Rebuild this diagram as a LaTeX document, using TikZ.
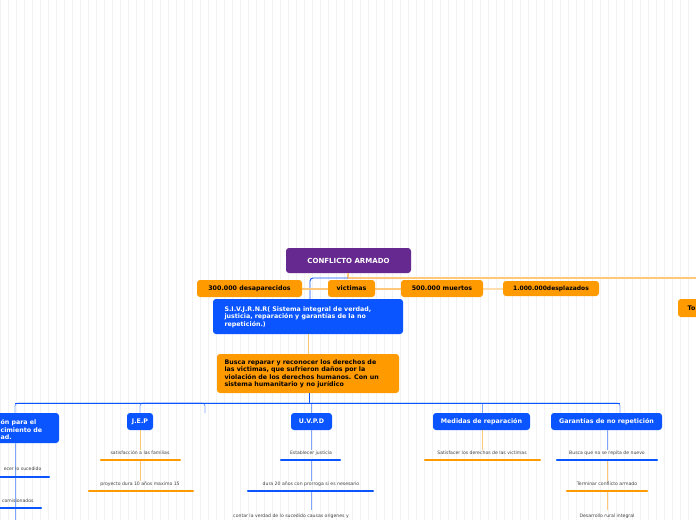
\documentclass[tikz,border=0pt]{standalone}
\usepackage{fontspec}
\setmainfont{DejaVu Sans}
\definecolor{purp}{HTML}{66298F}
\definecolor{blu}{HTML}{0A55FF}
\definecolor{org}{HTML}{FF9A00}
\definecolor{lorg}{HTML}{FFC77A}
\definecolor{lblu}{HTML}{7FA6FF}
\begin{document}
\begin{tikzpicture}[x=1pt,y=-1pt,
 box/.style={rounded corners=3pt,inner sep=0pt},
 lbl/.style={font=\fontsize{6.3}{7.5}\selectfont\bfseries},
 small/.style={font=\fontsize{4.6}{5.5}\selectfont,text=black!75},
 bbar/.style={blu,line width=2.2pt,line cap=round},
 obar/.style={org,line width=2.2pt,line cap=round},
 oc/.style={lorg,line width=0.8pt},
 bc/.style={lblu,line width=0.8pt}]
\useasboundingbox (0,0) rectangle (696,520);
\clip (0,0) rectangle (696,520);
\fill[white] (0,0) rectangle (696,520);
\draw[black!5,line width=0.4pt,step=8] (0,0) grid (696,520);
% main
\fill[purp,box] (286,248) rectangle (411,273);
\node[lbl,text=white,font=\fontsize{7}{8}\selectfont\bfseries] (ca) at (348.5,260.5) {CONFLICTO ARMADO};
\coordinate (caB) at (348,273);
\draw[oc,line width=1.2pt] (caB) -- (348,278) -- (696,278);
\draw[blu,line width=0.9pt,rounded corners=3pt] (348,278) -- (310,278) -- (310,299);
% row of facts
\draw[oc,line width=1.2pt] (302,289) -- (328,289) (375,289) -- (401,289);
\draw[lorg!60,line width=1.2pt] (483,289) -- (503,289);
\fill[org,box] (197,280) rectangle (302,297); \node[lbl] (f1) at (249.5,288.5) {300.000 desaparecidos};
\fill[org,box] (328,280) rectangle (375,297); \node[lbl] (f2) at (351.5,288.5) {victimas};
\fill[org,box] (401,280) rectangle (483,297); \node[lbl] (f3) at (442,288.5) {500.000 muertos};
\fill[org,box] (503,281) rectangle (599,296); \node[lbl,font=\fontsize{6}{7}\selectfont\bfseries] (f4) at (551,288.5) {1.000.000desplazados};
\fill[org,box] (678,299) rectangle (720,317); \node[lbl,anchor=west] (to) at (684,308) {To};
% SIV
\fill[blu,box] (213,299) rectangle (403,334);
\node[lbl,text=white,anchor=north west,align=left] (siv) at (221,303) {S.I.V.J.R.N.R( Sistema integral de verdad,\\justicia, reparación y garantías de la no\\repetición.)};
\draw[oc] (308,334) -- (308,354);
\fill[org,box] (217,354) rectangle (399,393);
\node[lbl,anchor=north west,align=left] (bus) at (221,356) {Busca reparar y reconocer los derechos de\\las victimas, que sufrieron daños por la\\violación de los derechos humanos. Con un\\sistema humanitario y no jurídico};
% bus
\draw[blu,line width=0.9pt] (309,393) -- (309,403);
\draw[lblu,line width=0.9pt,rounded corners=3pt] (15,413) -- (15,403) -- (205,403) -- (205,413);
\draw[lblu,line width=0.9pt,rounded corners=3pt] (140,413) -- (140,403) -- (620,403) -- (620,413);
\draw[lblu,line width=0.9pt] (311,403) -- (311,413) (482,403) -- (482,413);
\draw[blu,line width=0.9pt] (15,403) -- (620,403);
% level 2 boxes
\fill[blu,box] (-10,413) rectangle (59,443);
\node[lbl,text=white,anchor=north west,align=left] (vc) at (-3,416) {ón para el\\cimiento de\\ad.};
\fill[blu,box] (127,413) rectangle (153,430); \node[lbl,text=white] (jep) at (140,421.5) {J.E.P};
\fill[blu,box] (291,413) rectangle (332,430); \node[lbl,text=white] (uv) at (311.5,421.5) {U.V.P.D};
\fill[blu,box] (433,413) rectangle (530,430); \node[lbl,text=white] (med) at (481.5,421.5) {Medidas de reparación};
\fill[blu,box] (551,413) rectangle (662,430); \node[lbl,text=white] (gar) at (606.5,421.5) {Garantías de no repetición};
% left column
\draw[lblu,line width=0.8pt] (15,443) -- (15,520);
\node[small,anchor=east] (l1) at (45,469) {ecer lo sucedido}; \draw[bbar] (-2,477) -- (49,477);
\node[small,anchor=east] (l2) at (37,501) {comisionados}; \draw[bbar] (-2,508) -- (41,508);
% JEP
\draw[oc] (140,430) -- (140,450) (140,461) -- (140,481);
\node[small] (j1) at (140,453) {satisfacción a las familias}; \draw[obar] (101,460) -- (180,460);
\node[small] (j2) at (140,484) {proyecto dura 10 años maximo 15}; \draw[obar] (89,491) -- (193,491);
% UVPD
\draw[bc] (311,430) -- (311,450) (311,461) -- (311,481) (311,492) -- (311,510);
\node[small] (u1) at (311,453) {Establecer justicia}; \draw[bbar] (281,460) -- (340,460);
\node[small] (u2) at (311,484) {dura 20 años con prorroga si es nesesario}; \draw[bbar] (248,491) -- (373,491);
\node[small] (u3) at (291,516) {contar la verdad de lo sucedido causas origenes y};
% Medidas
\draw[oc] (482,430) -- (482,450);
\node[small] (m1) at (482,453) {Satisfacer los derechos de las victimas}; \draw[obar] (425,460) -- (540,460);
% Garantias
\draw[bc] (607,430) -- (607,450);
\draw[oc] (607,461) -- (607,481) (607,492) -- (607,510);
\node[small] (g1) at (607,453) {Busca que no se repita de nuevo}; \draw[bbar] (557,460) -- (657,460);
\node[small] (g2) at (607,484) {Terminar conflicto armado}; \draw[obar] (567,491) -- (647,491);
\node[small] (g3) at (607,516) {Desarrollo rural integral};
\end{tikzpicture}
\end{document}
